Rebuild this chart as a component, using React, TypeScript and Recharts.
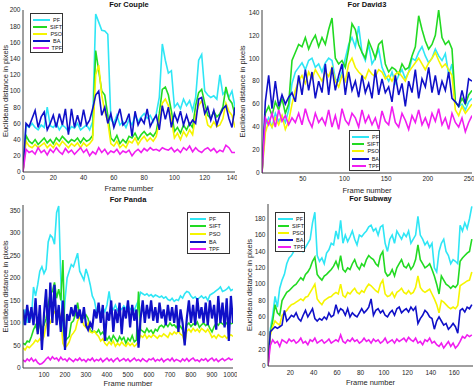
import { LineChart, Line, XAxis, YAxis } from "recharts";

const SERIES = ["PF", "SIFT", "PSO", "BA", "TPF"];
const COLORS: Record<string, string> = {
  PF: "#2FE6F5",
  SIFT: "#22DA22",
  PSO: "#F5F500",
  BA: "#1010C8",
  TPF: "#F01EF0",
};
const AXIS = "#404040";
const TXT = "#262626";

const range = (start: number, step: number, n: number) => Array.from({ length: n }, (_, i) => start + step * i);

// ---- For Couple (every 2nd frame)
const COUPLE_FRAMES = range(0, 2, 71);
const PF_COUPLE = [
  0, 58, 55, 60, 55, 52, 58, 55, 80, 57,
  55, 60, 52, 58, 55, 50, 56, 54, 60, 52,
  55, 58, 52, 62, 195, 185, 175, 174, 170, 65,
  60, 70, 58, 62, 55, 65, 58, 70, 62, 68,
  72, 66, 70, 62, 72, 92, 158, 138, 122, 125,
  80, 85, 78, 90, 82, 88, 76, 92, 138, 145,
  100, 95, 92, 94, 90, 120, 96, 100, 92, 100,
  80,
];
const SIFT_COUPLE = [
  0, 45, 38, 35, 40, 34, 38, 42, 36, 40,
  35, 42, 38, 44, 40, 36, 40, 38, 42, 36,
  42, 38, 40, 45, 150, 125, 100, 95, 70, 42,
  38, 45, 35, 40, 36, 44, 42, 48, 40, 46,
  50, 45, 48, 44, 50, 72, 102, 105, 95, 75,
  50, 55, 48, 58, 52, 60, 55, 82, 98, 102,
  85, 70, 66, 75, 68, 72, 80, 105, 90, 85,
  70,
];
const PSO_COUPLE = [
  0, 38, 32, 30, 34, 30, 33, 36, 30, 34,
  30, 36, 32, 38, 34, 30, 35, 32, 36, 30,
  36, 32, 35, 40, 120, 132, 95, 75, 62, 35,
  32, 38, 30, 34, 30, 38, 36, 42, 34, 40,
  44, 38, 42, 38, 44, 62, 85, 90, 82, 65,
  42, 48, 40, 50, 44, 52, 46, 70, 82, 88,
  75, 58, 55, 62, 56, 58, 66, 85, 75, 70,
  55,
];
const BA_COUPLE = [
  0, 60, 56, 66, 76, 55, 68, 74, 52, 60,
  70, 55, 72, 58, 78, 46, 78, 55, 70, 56,
  77, 58, 64, 78, 95, 100, 70, 80, 60, 72,
  55, 66, 78, 58, 62, 72, 44, 75, 58, 66,
  60, 78, 56, 64, 70, 52, 82, 65, 80, 55,
  72, 62, 75, 58, 70, 58, 64, 60, 90, 92,
  72, 80, 64, 76, 58, 70, 78, 82, 66, 55,
  80,
];
const TPF_COUPLE = [
  0, 28, 24, 26, 22, 30, 24, 27, 21, 28,
  24, 30, 25, 22, 29, 24, 27, 22, 26, 30,
  24, 28, 20, 25, 22, 30, 24, 28, 22, 26,
  24, 28, 22, 26, 24, 27, 20, 25, 28, 24,
  29, 26, 30, 27, 28, 26, 30, 28, 27, 30,
  25, 28, 24, 30, 27, 32, 25, 30, 26, 24,
  28, 30, 26, 29, 24, 27, 25, 33, 30, 24,
  24,
];

// ---- For David3 (every 4th frame)
const DAVID_FRAMES = range(1, 4, 64);
const PF_DAVID = [
  0, 42, 48, 40, 52, 45, 50, 44, 55, 78,
  88, 92, 96, 90, 98, 100, 92, 95, 88, 96,
  100, 98, 82, 80, 88, 100, 112, 118, 110, 128,
  105, 98, 112, 95, 100, 108, 92, 85, 80, 88,
  78, 85, 90, 82, 88, 100, 98, 105, 110, 102,
  96, 100, 108, 102, 98, 104, 86, 95, 62, 58,
  60, 55, 62, 65,
];
const SIFT_DAVID = [
  0, 52, 58, 50, 62, 55, 65, 52, 60, 98,
  105, 112, 110, 118, 108, 115, 120, 110, 118, 112,
  125, 135, 100, 95, 98, 92, 108, 130, 125, 112,
  105, 100, 115, 108, 100, 112, 115, 95, 88, 92,
  90, 86, 95, 90, 92, 102, 110, 137, 125, 115,
  108, 112, 120, 142, 118, 112, 115, 108, 62, 58,
  65, 60, 68, 72,
];
const PSO_DAVID = [
  0, 35, 45, 40, 48, 42, 50, 38, 45, 60,
  72, 80, 85, 78, 88, 82, 90, 85, 80, 88,
  84, 92, 80, 75, 85, 80, 95, 100, 92, 88,
  85, 82, 90, 86, 84, 90, 88, 82, 85, 80,
  86, 88, 84, 80, 88, 92, 96, 100, 95, 90,
  96, 100, 105, 98, 92, 95, 90, 85, 55, 50,
  58, 52, 56, 60,
];
const BA_DAVID = [
  0, 62, 85, 56, 80, 58, 68, 60, 66, 70,
  62, 85, 68, 90, 72, 88, 65, 80, 70, 95,
  68, 92, 72, 85, 95, 68, 88, 72, 80, 66,
  85, 70, 78, 65, 90, 68, 82, 70, 75, 62,
  85, 68, 78, 58, 80, 70, 90, 65, 82, 75,
  92, 70, 85, 68, 80, 72, 88, 65, 62, 58,
  72, 60, 82, 80,
];
const TPF_DAVID = [
  0, 48, 42, 52, 40, 55, 45, 50, 42, 48,
  44, 52, 42, 56, 46, 40, 52, 44, 48, 42,
  55, 40, 50, 38, 56, 46, 42, 52, 48, 40,
  55, 44, 50, 42, 48, 38, 54, 45, 42, 58,
  44, 40, 52, 46, 38, 50, 44, 55, 42, 48,
  40, 52, 45, 56, 42, 48, 38, 52, 44, 40,
  48, 36, 44, 50,
];

// ---- For Panda (every 10th frame)
const PANDA_FRAMES = range(0, 10, 101);
const PF_PANDA = [
  95, 130, 100, 125, 110, 180, 160, 185, 215, 225,
  210, 220, 280, 295, 290, 275, 345, 360, 200, 70,
  150, 200, 215, 230, 225, 240, 255, 215, 205, 195,
  220, 205, 185, 160, 150, 125, 130, 120, 135, 125,
  140, 170, 135, 130, 140, 128, 135, 130, 138, 132,
  140, 130, 135, 128, 140, 150, 168, 165, 162, 165,
  160, 163, 158, 162, 160, 157, 160, 155, 158, 152,
  150, 155, 148, 152, 150, 160, 155, 165, 170, 168,
  160, 155, 158, 152, 156, 160, 155, 158, 150, 162,
  165, 168, 172, 175, 180, 170, 172, 175, 180, 172,
  175,
];
const SIFT_PANDA = [
  55, 52, 60, 58, 70, 85, 95, 80, 100, 88,
  95, 110, 140, 165, 170, 190, 155, 175, 150, 240,
  60, 65, 70, 100, 105, 120, 145, 115, 108, 112,
  118, 110, 85, 80, 82, 78, 85, 75, 80, 72,
  62, 70, 60, 72, 65, 58, 70, 62, 68, 55,
  66, 60, 72, 58, 62, 170, 85, 82, 78, 88,
  80, 84, 76, 86, 82, 92, 95, 90, 98, 92,
  100, 94, 96, 90, 98, 92, 85, 65, 95, 100,
  92, 98, 95, 102, 90, 96, 100, 94, 98, 88,
  80, 92, 100, 95, 102, 98, 94, 100, 105, 98,
  100,
];
const PSO_PANDA = [
  45, 40, 48, 45, 50, 55, 62, 58, 65, 60,
  70, 95, 105, 100, 115, 125, 120, 130, 110, 55,
  45, 50, 58, 72, 78, 85, 105, 112, 108, 95,
  90, 100, 80, 78, 82, 75, 70, 60, 65, 55,
  50, 58, 52, 60, 48, 55, 50, 58, 52, 48,
  56, 50, 55, 48, 52, 60, 72, 68, 75, 66,
  72, 68, 74, 70, 66, 72, 70, 76, 72, 68,
  78, 74, 80, 76, 82, 75, 72, 55, 82, 86,
  80, 88, 82, 86, 80, 88, 84, 80, 86, 78,
  68, 72, 66, 74, 70, 68, 72, 66, 70, 74,
  70,
];
const BA_PANDA = [
  130, 95, 140, 100, 135, 95, 155, 75, 140, 40,
  120, 175, 70, 190, 100, 185, 95, 140, 80, 150,
  40, 120, 105, 135, 115, 140, 110, 130, 100, 135,
  95, 85, 100, 90, 130, 110, 145, 100, 140, 60,
  125, 105, 150, 80, 130, 100, 145, 75, 135, 110,
  150, 90, 140, 105, 130, 45, 110, 150, 100, 140,
  110, 150, 105, 135, 100, 145, 110, 130, 95, 140,
  105, 135, 100, 140, 80, 130, 100, 50, 110, 150,
  100, 140, 95, 155, 110, 135, 100, 145, 95, 150,
  110, 140, 85, 160, 100, 145, 90, 155, 60, 160,
  100,
];
const TPF_PANDA = [
  18, 14, 20, 16, 22, 15, 19, 12, 8, 10,
  14, 20, 24, 18, 25, 20, 22, 16, 24, 18,
  20, 15, 22, 18, 14, 20, 17, 22, 16, 19,
  14, 20, 17, 22, 15, 19, 16, 21, 14, 18,
  22, 16, 20, 14, 19, 22, 15, 18, 21, 16,
  20, 14, 18, 22, 16, 19, 15, 21, 17, 14,
  20, 18, 22, 15, 19, 16, 21, 14, 18, 20,
  16, 22, 15, 19, 17, 14, 20, 16, 21, 15,
  19, 22, 16, 18, 14, 20, 17, 21, 15, 19,
  22, 16, 20, 14, 18, 21, 16, 19, 22, 18,
  20,
];

// ---- For Subway (every 2nd frame)
const SUBWAY_FRAMES = range(1, 2, 88);
const PF_SUBWAY = [
  0, 45, 62, 85, 72, 95, 105, 112, 125, 132,
  135, 140, 150, 142, 148, 140, 145, 150, 155, 175,
  188, 135, 128, 132, 125, 138, 142, 150, 148, 165,
  155, 178, 150, 160, 152, 158, 165, 155, 148, 160,
  158, 162, 165, 170, 172, 165, 168, 160, 170, 172,
  150, 140, 155, 160, 150, 165, 160, 155, 162, 158,
  165, 150, 155, 160, 183, 160, 155, 148, 152, 145,
  150, 120, 115, 140, 150, 155, 140, 135, 125, 130,
  128, 125, 172, 165, 175, 168, 180, 195,
];
const SIFT_SUBWAY = [
  0, 40, 55, 75, 65, 62, 80, 85, 90, 92,
  95, 98, 100, 104, 108, 105, 112, 115, 120, 128,
  133, 112, 108, 105, 110, 112, 115, 118, 122, 128,
  120, 135, 118, 115, 120, 118, 125, 130, 122, 118,
  125, 122, 130, 135, 132, 130, 125, 122, 135, 140,
  115, 110, 112, 118, 110, 120, 125, 130, 122, 120,
  125, 118, 122, 130, 148, 130, 125, 120, 122, 125,
  118, 110, 100, 88, 110, 105, 100, 98, 95, 98,
  96, 100, 128, 132, 135, 138, 140, 155,
];
const PSO_SUBWAY = [
  0, 38, 48, 55, 52, 50, 62, 65, 68, 72,
  75, 76, 78, 80, 82, 80, 84, 85, 90, 95,
  100, 82, 78, 75, 80, 82, 84, 85, 88, 90,
  88, 100, 86, 84, 90, 88, 92, 95, 90, 88,
  92, 90, 96, 100, 98, 95, 92, 90, 100, 105,
  88, 85, 86, 90, 84, 90, 92, 95, 90, 88,
  92, 88, 90, 96, 110, 96, 92, 90, 92, 94,
  88, 82, 75, 65, 80, 78, 75, 72, 70, 72,
  70, 74, 98, 100, 102, 104, 105, 115,
];
const BA_SUBWAY = [
  0, 42, 45, 48, 46, 48, 50, 68, 55, 58,
  62, 60, 65, 58, 55, 62, 68, 60, 65, 70,
  58, 55, 58, 56, 60, 57, 65, 60, 62, 75,
  65, 70, 68, 62, 70, 60, 65, 62, 60, 65,
  70, 65, 68, 72, 82, 62, 68, 70, 65, 68,
  62, 60, 65, 68, 62, 70, 72, 65, 68, 70,
  66, 72, 68, 72, 52, 58, 62, 68, 65, 60,
  58, 45, 55, 60, 55, 50, 52, 45, 48, 52,
  48, 40, 68, 70, 66, 72, 70, 75,
];
const TPF_SUBWAY = [
  0, 25, 32, 28, 30, 24, 32, 30, 28, 33,
  30, 32, 28, 30, 34, 28, 30, 26, 32, 30,
  34, 28, 30, 32, 28, 30, 33, 28, 30, 32,
  30, 38, 30, 28, 32, 30, 34, 30, 32, 28,
  30, 34, 30, 32, 28, 33, 30, 32, 28, 30,
  34, 28, 30, 32, 28, 33, 30, 32, 34, 30,
  35, 32, 30, 34, 28, 30, 26, 32, 30, 34,
  28, 30, 26, 24, 28, 22, 26, 30, 24, 28,
  22, 25, 30, 36, 34, 38, 36, 38,
];

type PanelProps = {
  title: string;
  frames: number[];
  series: number[][];
  xDomain: [number, number];
  xTicks: number[];
  yDomain: [number, number];
  yTicks: number[];
  left: number;
  top: number;
  height: number;
  marginTop: number;
  marginRight: number;
  yWidth: number;
  xHeight: number;
  xTickMargin: number;
  xLabelOffset: number;
  yLabelOffset: number;
  baWidth?: number;
  legend: { left: number; top: number; width: number; height: number; line: number };
};

function LegendBox({ left, top, width, height, line }: PanelProps["legend"]) {
  return (
    <div
      style={{
        position: "absolute",
        left,
        top,
        width,
        height,
        boxSizing: "border-box",
        border: "1px solid #333",
        background: "#fff",
        padding: "2px 0 0 2px",
      }}
    >
      {SERIES.map((s) => (
        <div key={s} style={{ display: "flex", alignItems: "center", height: (height - 4) / 5 }}>
          <span style={{ display: "inline-block", width: line, height: 2, background: COLORS[s] }} />
          <span style={{ marginLeft: 3, fontSize: 5.5, lineHeight: "6px", color: "#111" }}>{s}</span>
        </div>
      ))}
    </div>
  );
}

function Panel(p: PanelProps) {
  const width = 237;
  const data = p.frames.map((f, i) => {
    const row: Record<string, number> = { f };
    SERIES.forEach((k, j) => (row[k] = p.series[j][i]));
    return row;
  });
  const plotLeft = p.yWidth;
  const plotRight = width - p.marginRight;
  return (
    <div style={{ position: "absolute", left: p.left, top: p.top, width, height: p.height }}>
      <div
        style={{
          position: "absolute",
          left: plotLeft,
          width: plotRight - plotLeft,
          top: p.marginTop - 10,
          textAlign: "center",
          fontSize: 7.5,
          fontWeight: "bold",
          lineHeight: "9px",
          color: "#111",
        }}
      >
        {p.title}
      </div>
      <LineChart
        width={width}
        height={p.height}
        data={data}
        margin={{ top: p.marginTop, right: p.marginRight, bottom: 0, left: 0 }}
      >
        <XAxis
          dataKey="f"
          type="number"
          domain={p.xDomain}
          ticks={p.xTicks}
          allowDataOverflow
          height={p.xHeight}
          tickSize={0}
          tickMargin={p.xTickMargin}
          tick={{ fontSize: 6.5, fill: TXT }}
          axisLine={{ stroke: AXIS }}
          label={{ value: "Frame number", position: "insideBottom", offset: p.xLabelOffset, fontSize: 7.5, fill: TXT }}
        />
        <XAxis xAxisId="top" orientation="top" type="number" domain={p.xDomain} height={0} tick={false} tickLine={false} axisLine={{ stroke: AXIS }} />
        <YAxis
          type="number"
          domain={p.yDomain}
          ticks={p.yTicks}
          allowDataOverflow
          width={p.yWidth}
          tickSize={0}
          tickMargin={2.5}
          tick={{ fontSize: 6.5, fill: TXT }}
          axisLine={{ stroke: AXIS }}
          label={{
            value: "Euclidean distance in pixels",
            angle: -90,
            position: "insideLeft",
            offset: p.yLabelOffset,
            fontSize: 7.5,
            fill: TXT,
            style: { textAnchor: "middle" },
          }}
        />
        <YAxis yAxisId="right" orientation="right" type="number" domain={p.yDomain} width={0} tick={false} tickLine={false} axisLine={{ stroke: AXIS }} />
        {SERIES.map((s) => (
          <Line
            key={s}
            type="linear"
            dataKey={s}
            stroke={COLORS[s]}
            strokeWidth={s === "BA" && p.baWidth ? p.baWidth : 1.6}
            dot={false}
            isAnimationActive={false}
          />
        ))}
      </LineChart>
      <LegendBox {...p.legend} />
    </div>
  );
}

export default function App() {
  return (
    <div
      style={{
        position: "absolute",
        left: 0,
        top: 0,
        width: 474,
        height: 387,
        background: "#fff",
        overflow: "hidden",
        fontFamily: "'Liberation Sans', Arial, sans-serif",
      }}
    >
      <Panel
        title="For Couple"
        frames={COUPLE_FRAMES}
        series={[PF_COUPLE, SIFT_COUPLE, PSO_COUPLE, BA_COUPLE, TPF_COUPLE]}
        xDomain={[0, 140]}
        xTicks={[0, 20, 40, 60, 80, 100, 120, 140]}
        yDomain={[0, 200]}
        yTicks={[0, 20, 40, 60, 80, 100, 120, 140, 160, 180, 200]}
        left={0}
        top={0}
        height={194}
        marginTop={10}
        marginRight={2}
        yWidth={23}
        xHeight={22}
        xTickMargin={3.5}
        xLabelOffset={3.3}
        yLabelOffset={5}
        legend={{ left: 30, top: 13, width: 33, height: 40, line: 17 }}
      />
      <Panel
        title="For David3"
        frames={DAVID_FRAMES}
        series={[PF_DAVID, SIFT_DAVID, PSO_DAVID, BA_DAVID, TPF_DAVID]}
        xDomain={[1, 253]}
        xTicks={[50, 100, 150, 200, 250]}
        yDomain={[0, 142]}
        yTicks={[0, 20, 40, 60, 80, 100, 120, 140]}
        left={237}
        top={0}
        height={194}
        marginTop={10}
        marginRight={2}
        yWidth={25}
        xHeight={21}
        xTickMargin={3.5}
        xLabelOffset={1.3}
        yLabelOffset={5}
        legend={{ left: 112, top: 130, width: 31, height: 41, line: 17 }}
      />
      <Panel
        title="For Panda"
        frames={PANDA_FRAMES}
        series={[PF_PANDA, SIFT_PANDA, PSO_PANDA, BA_PANDA, TPF_PANDA]}
        xDomain={[0, 1000]}
        xTicks={[100, 200, 300, 400, 500, 600, 700, 800, 900, 1000]}
        yDomain={[0, 362]}
        yTicks={[0, 50, 100, 150, 200, 250, 300, 350]}
        left={0}
        top={194}
        height={193}
        marginTop={11}
        marginRight={4}
        yWidth={23}
        xHeight={19}
        xTickMargin={4}
        xLabelOffset={1.3}
        yLabelOffset={5}
        baWidth={2.2}
        legend={{ left: 187, top: 18, width: 43, height: 42, line: 16 }}
      />
      <Panel
        title="For Subway"
        frames={SUBWAY_FRAMES}
        series={[PF_SUBWAY, SIFT_SUBWAY, PSO_SUBWAY, BA_SUBWAY, TPF_SUBWAY]}
        xDomain={[1, 176]}
        xTicks={[20, 40, 60, 80, 100, 120, 140, 160]}
        yDomain={[0, 198]}
        yTicks={[0, 20, 40, 60, 80, 100, 120, 140, 160, 180]}
        left={237}
        top={194}
        height={193}
        marginTop={10}
        marginRight={1}
        yWidth={31}
        xHeight={21}
        xTickMargin={4.2}
        xLabelOffset={2}
        yLabelOffset={12}
        legend={{ left: 38, top: 18, width: 30, height: 40, line: 15 }}
      />
    </div>
  );
}
